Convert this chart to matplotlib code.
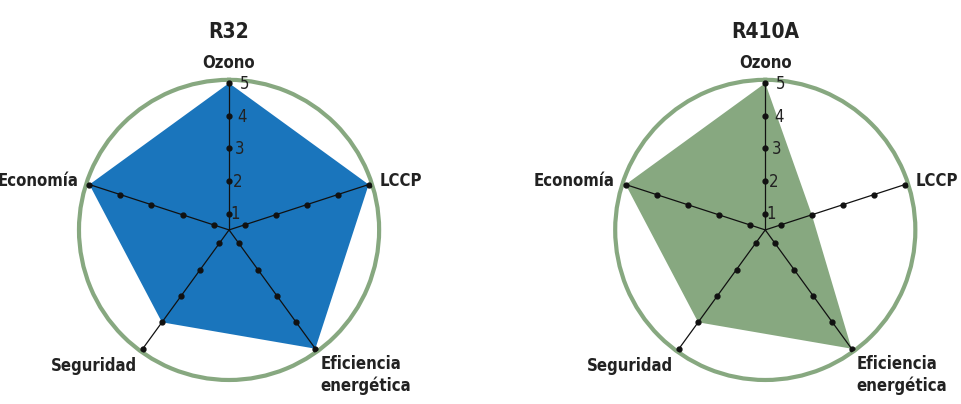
import numpy as np
import matplotlib
matplotlib.use("Agg")
import matplotlib.pyplot as plt

categories = ["Ozono", "LCCP", "Eficiencia\nenergética", "Seguridad", "Economía"]
r32_values = [5, 5, 5, 4, 5]
r410a_values = [5, 2, 5, 4, 5]
ticks = [1, 2, 3, 4, 5]
titles = ["R32", "R410A"]
fills = ["#1a75bc", "#87a880"]

plt.rcParams['font.family'] = ['DejaVu Sans']
plt.rcParams['font.stretch'] = 'condensed'
fig = plt.figure(figsize=(9.62, 4.04), dpi=100)
angles = np.linspace(0, 2*np.pi, len(categories), endpoint=False)
lefts = [0.0821, 0.6395]
for left, vals, title, col in zip(lefts, [r32_values, r410a_values], titles, fills):
    ax = fig.add_axes([left, 0.0594, 0.312, 0.743], projection='polar')
    ax.set_theta_offset(np.pi/2)
    ax.set_theta_direction(-1)
    ax.set_ylim(0.5, 5.1)
    ax.grid(False)
    ax.set_xticks([]); ax.set_yticks([])
    ax.spines['polar'].set_color("#87a880")
    ax.spines['polar'].set_linewidth(3)
    a = np.append(angles, angles[0]); v = np.append(vals, vals[0])
    ax.fill(a, v, color=col, zorder=2, lw=0)
    for ang in angles:
        ax.plot([ang, ang], [0.5, 5], color="#111111", lw=0.9, zorder=3)
        ax.plot([ang]*5, ticks, 'o', color="#111111", ms=3.5, zorder=4)
    for t in ticks:
        ax.text(0.07 + 0.05/t, t - 0.3, str(t), fontsize=12, ha='left', va='bottom',
                zorder=5, color="#222222", fontstretch='condensed')
    for ang, lab in zip(angles, categories):
        deg = np.degrees(ang)
        kw = dict(fontsize=12, fontweight='bold', fontstretch='condensed', color="#222222")
        if deg == 0:
            ax.text(ang, 5.35, lab, ha='center', va='bottom', **kw)
        elif deg < 90:
            ax.text(ang, 5.35, lab, ha='left', va='center', **kw)
        elif deg < 180:
            ax.text(ang, 5.25, lab, ha='left', va='top', multialignment='left', **kw)
        elif deg < 270:
            ax.text(ang, 5.3, lab, ha='right', va='top', **kw)
        else:
            ax.text(ang, 5.35, lab, ha='right', va='center', **kw)
    ax.set_title(title, fontsize=15, fontweight='bold', pad=30, fontstretch='condensed', color="#222222")
fig.savefig("out.png", dpi=100)
